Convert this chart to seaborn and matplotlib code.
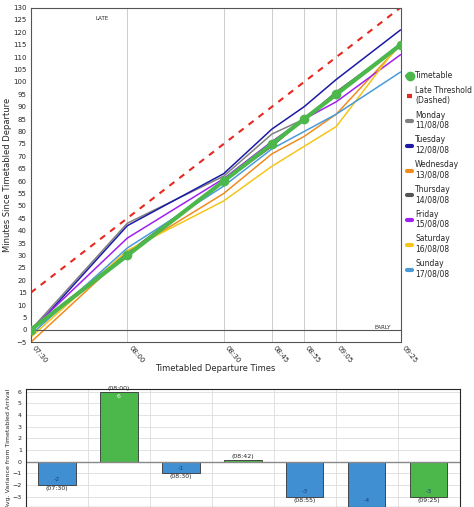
import numpy as np
import pandas as pd
import matplotlib.pyplot as plt
import seaborn as sns

# === DATA ===
minutes = [0, 30, 60, 75, 85, 95, 115]
tick_labels = ["07:30", "08:00", "08:30", "08:45", "08:55", "09:05", "09:25"]
timetable = [0, 30, 60, 75, 85, 95, 115]
late = [15, 45, 75, 90, 100, 110, 130]
monday = [0, 43, 62, 79, 85, 95, 115]
tuesday = [-1, 42, 63, 81, 90, 101, 121]
wednesday = [-5, 31, 55, 71, 78, 87, 115]
thursday = [0, 31, 60, 74, 85, 96, 115]
friday = [0, 37, 61, 76, 85, 92, 111]
saturday = [-3, 32, 52, 66, 74, 82, 116]
sunday = [-2, 33, 58, 73, 80, 87, 104]

bar_labels = ["(07:30)", "(08:00)", "(08:30)", "(08:42)", "(08:55)", "(09:05)", "(09:25)"]
bar_values = [-2, 6, -1, 0.1, -3, -4, -3]
bar_colors = ["#3f8fd2", "#4cb84c", "#3f8fd2", "#4cb84c", "#3f8fd2", "#3f8fd2", "#4cb84c"]

sns.set_style("white")
fig = plt.figure(figsize=(4.74, 5.07), dpi=100)
ax = fig.add_axes([0.065, 0.325, 0.78, 0.66])

series = [
    ("Monday\n11/08/08", monday, "#808080"),
    ("Tuesday\n12/08/08", tuesday, "#1a1aa6"),
    ("Wednesday\n13/08/08", wednesday, "#f08c1e"),
    ("Thursday\n14/08/08", thursday, "#555555"),
    ("Friday\n15/08/08", friday, "#a020f0"),
    ("Saturday\n16/08/08", saturday, "#f5c518"),
    ("Sunday\n17/08/08", sunday, "#4a9ad8"),
]
sns.lineplot(x=minutes, y=timetable, ax=ax, color="#4cb84c", lw=3, marker="o",
             markersize=7, markeredgewidth=0, label="Timetable", zorder=5)
sns.lineplot(x=minutes, y=late, ax=ax, color="#e8281e", lw=1.5, dashes=(3, 3),
             label="Late Threshold\n(Dashed)")
for name, vals, col in series:
    sns.lineplot(x=minutes, y=vals, ax=ax, color=col, lw=1.1, label=name)

ax.axhline(0, color="#555555", lw=0.8)
ax.set_xlim(0, 115)
ax.set_ylim(-5, 130)
ax.set_yticks(range(-5, 131, 5))
ax.set_xticks(minutes)
ax.set_xticklabels(tick_labels, rotation=-50, ha="left", fontsize=5)
ax.tick_params(axis="y", labelsize=5, length=2, pad=1)
ax.tick_params(axis="x", length=0, pad=2)
ax.grid(axis="x", color="#cccccc", lw=0.7)
ax.text(20, 125, "LATE", fontsize=4)
ax.text(112, 0.5, "EARLY", fontsize=4, ha="right")
ax.set_xlabel("Timetabled Departure Times", fontsize=6, labelpad=0)
ax.set_ylabel("Minutes Since Timetabled Departure", fontsize=6, labelpad=1)
for s in ax.spines.values():
    s.set_color("#555555")
    s.set_linewidth(0.8)
ax.legend(loc="center left", bbox_to_anchor=(1.0, 0.5), frameon=False, fontsize=5.5,
          handlelength=0.6, labelspacing=0.7, handletextpad=0.4)
for line in ax.get_legend().get_lines():
    line.set_linewidth(3)

# === BAR CHART ===
bx = fig.add_axes([0.055, 0.0, 0.915, 0.232])
df = pd.DataFrame({"lab": bar_labels, "val": bar_values})
sns.barplot(data=df, x="lab", y="val", hue="lab", palette=bar_colors, legend=False,
            ax=bx, width=0.6, edgecolor="#333333", linewidth=0.6, saturation=1)
for i, (v, lab) in enumerate(zip(bar_values, bar_labels)):
    txt = str(int(round(v)))
    if v >= 0.5:
        bx.text(i, v + 0.1, lab, ha="center", va="bottom", fontsize=4.5)
        bx.text(i, v - 0.5, txt, ha="center", color="white", fontsize=4.5)
    elif v > 0:
        bx.text(i, v + 0.1, lab, ha="center", va="bottom", fontsize=4.5)
    else:
        if v > -3.5:
            bx.text(i, v - 0.1, lab, ha="center", va="top", fontsize=4.5)
        bx.text(i, max(v + 0.3, -3.5), txt, ha="center", color="#1a3f7a", fontsize=4.5)
bx.axhline(0, color="#888888", lw=1)
bx.set_ylim(-3.9, 6.2)
bx.set_yticks(range(-3, 7))
bx.tick_params(axis="y", labelsize=4.5, length=2, pad=1)
bx.set_xticks([])
bx.set_xlabel("")
bx.set_ylabel("Avg. Variance from Timetabled Arrival", fontsize=4.5, labelpad=1)
bx.grid(True, color="#dddddd", lw=0.6)
bx.set_axisbelow(True)
for x in np.arange(-0.5, 7, 1):
    bx.axvline(x, color="#dddddd", lw=0.6, zorder=0)
bx.set_xlim(-0.5, 6.5)

fig.savefig("out.png", dpi=100)
